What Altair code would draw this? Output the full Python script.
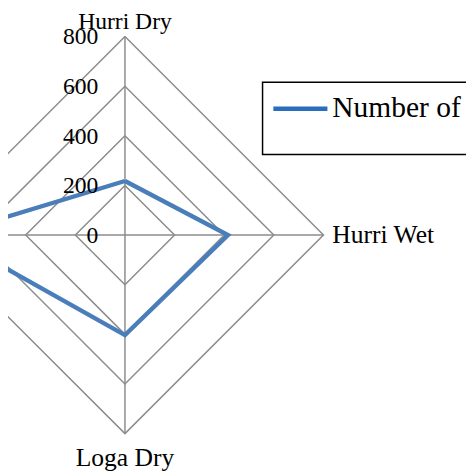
import math
import altair as alt
import pandas as pd

categories = ["Hurri Dry", "Hurri Wet", "Loga Dry", "Loga Wet"]
values = [218, 415, 403, 718]
ticks = [0, 200, 400, 600, 800]
series_name = "Number of species"

FONT = "Liberation Serif"
GRID = "#8c8c8c"
BLUE = "#4a7ebb"
LEG_BLUE = "#2a6ebb"

W, H = 466, 466
CX, CY = 119, 227  # center in chart px
U = 800 / 202.0  # value units per px
xdom = [-CX * U, (W - CX) * U]
ydom = [-(H - CY) * U, CY * U]

def ang(i):
    return math.radians(90 - 90 * i)

# grid rings
rows = []
for t in ticks[1:]:
    for k in range(len(categories) + 1):
        i = k % len(categories)
        rows.append({"ring": t, "ord": k, "x": t * math.cos(ang(i)), "y": t * math.sin(ang(i))})
rings = pd.DataFrame(rows)

spokes = pd.DataFrame([
    {"x": 0, "y": 0, "x2": ticks[-1] * math.cos(ang(i)), "y2": ticks[-1] * math.sin(ang(i))}
    for i in range(len(categories))
])

data_rows = []
for k in range(len(categories) + 1):
    i = k % len(categories)
    data_rows.append({"cat": categories[i], "ord": k,
                      "x": values[i] * math.cos(ang(i)), "y": values[i] * math.sin(ang(i))})
series = pd.DataFrame(data_rows)

tick_df = pd.DataFrame({"x": [0] * len(ticks), "y": ticks, "label": [str(t) for t in ticks]})

xs = alt.Scale(domain=xdom, nice=False, zero=False)
ys = alt.Scale(domain=ydom, nice=False, zero=False)
X = lambda f="x": alt.X(f"{f}:Q", scale=xs, axis=None)
Y = lambda f="y": alt.Y(f"{f}:Q", scale=ys, axis=None)

ring_layer = alt.Chart(rings).mark_line(color=GRID, strokeWidth=1.5, clip=True).encode(
    x=X(), y=Y(), detail="ring:N", order="ord:Q")
spoke_layer = alt.Chart(spokes).mark_rule(color=GRID, strokeWidth=1.5, clip=True).encode(
    x=X(), y=Y(), x2="x2:Q", y2="y2:Q")
tick_layer = alt.Chart(tick_df).mark_text(font=FONT, fontSize=24, align="right", baseline="middle",
                                          dx=-27, dy=1, color="black").encode(
    x=X(), y=Y(), text="label:N")
line_layer = alt.Chart(series).mark_line(color=BLUE, strokeWidth=4.5, clip=True, strokeJoin="miter").encode(
    x=X(), y=Y(), order="ord:Q")

lab_specs = [
    (0, dict(align="center", baseline="alphabetic", dx=0, dy=-8, fontSize=24)),
    (1, dict(align="left", baseline="alphabetic", dx=9, dy=8, fontSize=26)),
    (2, dict(align="center", baseline="alphabetic", dx=0, dy=33, fontSize=26)),
    (3, dict(align="right", baseline="alphabetic", dx=-9, dy=8, fontSize=26)),
]
label_layers = []
for i, kw in lab_specs:
    df = pd.DataFrame({"x": [ticks[-1] * math.cos(ang(i))], "y": [ticks[-1] * math.sin(ang(i))],
                       "label": [categories[i]]})
    label_layers.append(alt.Chart(df).mark_text(font=FONT, color="black", **kw).encode(
        x=X(), y=Y(), text="label:N"))

leg_df = pd.DataFrame({"name": [series_name]})
leg_box = alt.Chart(leg_df).mark_rect(fill="white", stroke="black", strokeWidth=1.5).encode(
    x=alt.value(259), x2=alt.value(700), y=alt.value(71.5), y2=alt.value(145))
leg_line = alt.Chart(leg_df).mark_rule(color=LEG_BLUE, strokeWidth=4.5).encode(
    x=alt.value(270), x2=alt.value(325), y=alt.value(98.5))
leg_text = alt.Chart(leg_df).mark_text(font=FONT, fontSize=30, align="left", baseline="alphabetic",
                                       color="black").encode(
    x=alt.value(330), y=alt.value(107), text="name:N")

chart = alt.layer(ring_layer, spoke_layer, line_layer, tick_layer, *label_layers,
                  leg_box, leg_line, leg_text).properties(
    width=W, height=H, autosize=alt.AutoSizeParams(type="none"), padding=0, background="white"
).configure_view(stroke=None, strokeWidth=0)

chart.save("out.html", embed_options={"renderer": "svg", "actions": False})
